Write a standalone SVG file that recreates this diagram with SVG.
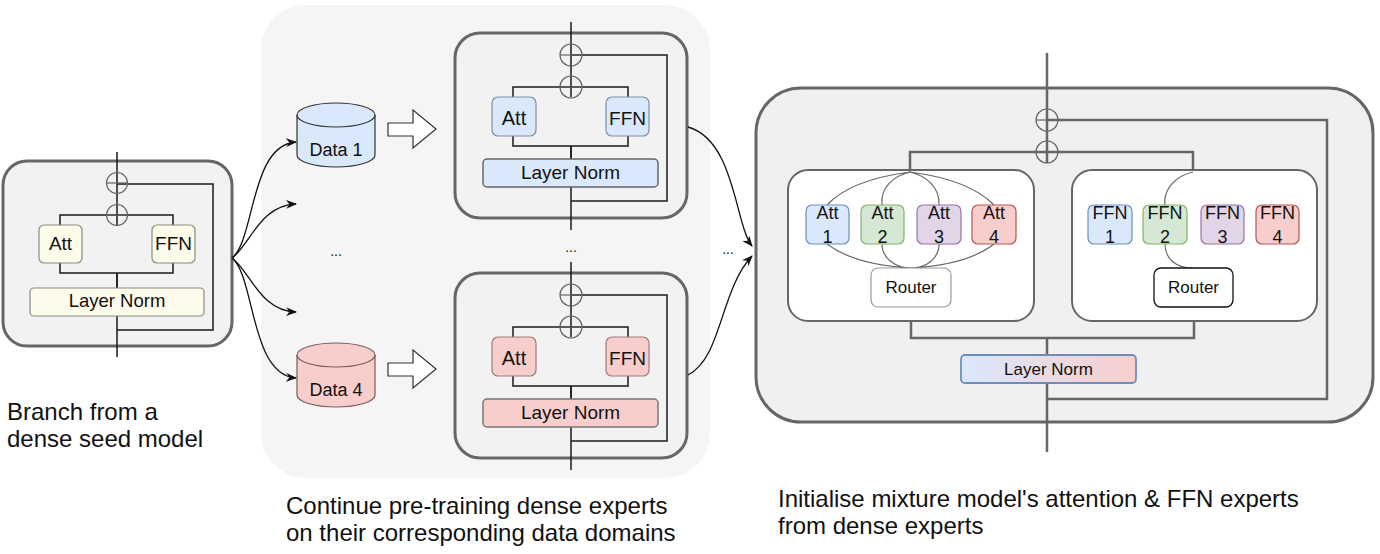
<svg xmlns="http://www.w3.org/2000/svg" width="1380" height="554" viewBox="0 0 1380 554">
<defs>
<style>
text{font-family:"Liberation Sans",Arial,Helvetica,sans-serif;fill:#111}
.blk{fill:#f2f2f2;stroke:#666;stroke-width:3}
.ln{fill:none;stroke:#1a1a1a;stroke-width:1.5}
.lng{fill:none;stroke:#666;stroke-width:2.5}
.circ{fill:none;stroke:#666;stroke-width:1.2}
.cream{fill:#fdfbea;stroke:#8a8a80;stroke-width:1.2}
.blue{fill:#dae8fc;stroke:#7f8fa6;stroke-width:1.2}
.pink{fill:#f8cecc;stroke:#a07a7a;stroke-width:1.2}
.lnb{fill:#dae8fc;stroke:#666;stroke-width:1.5}
.lnp{fill:#f8cecc;stroke:#777;stroke-width:1.5}
.cont{fill:#fff;stroke:#666;stroke-width:2}
.cv{fill:none;stroke:#666;stroke-width:1.2}
.conn{fill:none;stroke:#111;stroke-width:1.3}
.hollow{fill:#fff;stroke:#333;stroke-width:1.2}
.c{text-anchor:middle}
.title{font-size:24px}
</style>
<marker id="arr" viewBox="0 0 10 8" refX="9" refY="4" markerWidth="11" markerHeight="9" markerUnits="userSpaceOnUse" orient="auto">
<path d="M0,0 L10,4 L0,8 L3,4 Z" fill="#111"/>
</marker>
<linearGradient id="lngrad" x1="0" y1="0" x2="1" y2="0">
<stop offset="0" stop-color="#dae8fc"/>
<stop offset="1" stop-color="#f8cecc"/>
</linearGradient>
</defs>
<rect x="0" y="0" width="1380" height="554" fill="#fff"/>

<g id="panel-middle">
<rect x="261" y="5" width="449" height="473" rx="45" fill="#f5f5f5"/>
</g>

<g id="seed-model">
<rect x="3" y="161" width="229" height="185" rx="24" class="blk"/>
<path d="M117,152 V226 M117,273 V357" class="ln"/>
<path d="M117,184 H213 V330 H117" class="ln"/>
<path d="M60,225 V215 H173 V225" class="ln"/>
<path d="M60,263 V273 H173 V263 M117,273 V288" class="ln"/>
<circle cx="117" cy="183" r="10.5" class="circ"/>
<path d="M106.5,183 H127.5" class="circ"/>
<circle cx="117" cy="215" r="10.5" class="circ"/>
<path d="M106.5,215 H127.5" class="circ"/>
<rect x="39" y="225" width="43" height="38" rx="5" class="cream"/>
<text x="60.5" y="250" font-size="19" class="c">Att</text>
<rect x="152" y="225" width="43" height="38" rx="5" class="cream"/>
<text x="173.5" y="250" font-size="19" class="c">FFN</text>
<rect x="30" y="288" width="174" height="28" rx="4" class="cream"/>
<text x="117" y="307" font-size="18.5" class="c">Layer Norm</text>
</g>

<g id="data-1">
<path d="M297,115 A39,12 0 0 1 375,115 V155 A39,12 0 0 1 297,155 Z" fill="#dae8fc" stroke="#333" stroke-width="1.2"/>
<path d="M297,115 A39,12 0 0 0 375,115" fill="none" stroke="#333" stroke-width="1.2"/>
<text x="336" y="156" font-size="18" class="c">Data 1</text>
</g>

<g id="data-4">
<path d="M297,355 A39,12 0 0 1 375,355 V395 A39,12 0 0 1 297,395 Z" fill="#f8cecc" stroke="#7a5a5a" stroke-width="1.2"/>
<path d="M297,355 A39,12 0 0 0 375,355" fill="none" stroke="#7a5a5a" stroke-width="1.2"/>
<text x="336" y="396" font-size="18" class="c">Data 4</text>
</g>

<g id="arrow-1">
<path d="M388,123 H413 V110 L436,129 L413,148 V136 H388 Z" class="hollow"/>
</g>
<g id="arrow-4">
<path d="M388,363 H413 V350 L436,369 L413,388 V376 H388 Z" class="hollow"/>
</g>

<g id="dense-expert-1">
<rect x="455" y="33" width="232" height="185" rx="25" class="blk"/>
<path d="M571,22 V97 M571,146 V230" class="ln"/>
<path d="M571,55 H667 V201 H571" class="ln"/>
<path d="M513,97 V87 H628 V97" class="ln"/>
<path d="M513,136 V146 H628 V136 M571,146 V159" class="ln"/>
<circle cx="571" cy="55" r="11" class="circ"/>
<path d="M560,55 H582" class="circ"/>
<circle cx="571" cy="87" r="11" class="circ"/>
<path d="M560,87 H582" class="circ"/>
<rect x="492" y="97" width="44" height="39" rx="6" class="blue"/>
<text x="514" y="125" font-size="20" class="c">Att</text>
<rect x="606" y="97" width="43" height="39" rx="6" class="blue"/>
<text x="627.5" y="125" font-size="19" class="c">FFN</text>
<rect x="483" y="159" width="175" height="28" rx="4" class="lnb"/>
<text x="570.5" y="179" font-size="19" class="c">Layer Norm</text>
</g>

<g id="dense-expert-4">
<rect x="455" y="273" width="232" height="185" rx="25" class="blk"/>
<path d="M571,262 V337 M571,386 V470" class="ln"/>
<path d="M571,295 H667 V441 H571" class="ln"/>
<path d="M513,337 V327 H628 V337" class="ln"/>
<path d="M513,376 V386 H628 V376 M571,386 V399" class="ln"/>
<circle cx="571" cy="295" r="11" class="circ"/>
<path d="M560,295 H582" class="circ"/>
<circle cx="571" cy="327" r="11" class="circ"/>
<path d="M560,327 H582" class="circ"/>
<rect x="492" y="337" width="44" height="39" rx="6" class="pink"/>
<text x="514" y="365" font-size="20" class="c">Att</text>
<rect x="606" y="337" width="43" height="39" rx="6" class="pink"/>
<text x="627.5" y="365" font-size="19" class="c">FFN</text>
<rect x="483" y="399" width="175" height="28" rx="4" class="lnp"/>
<text x="570.5" y="419" font-size="19" class="c">Layer Norm</text>
</g>

<g id="mixture-model">
<rect x="756" y="88" width="617" height="334" rx="45" fill="#f0f0f0" stroke="#666" stroke-width="3"/>
<path d="M1047,53 V163 M1047,338 V452" class="lng"/>
<path d="M1047,120 H1327 V399 H1047" class="lng"/>
<path d="M910,170 V152 H1193 V170" class="lng"/>
<path d="M911,321 V338 H1194 V321" class="lng"/>
<circle cx="1047" cy="120" r="11" class="circ" stroke-width="1.5"/>
<path d="M1036,120 H1058" class="circ"/>
<circle cx="1047" cy="152" r="11" class="circ" stroke-width="1.5"/>
<path d="M1036,152 H1058" class="circ"/>
<rect x="961" y="355" width="175" height="28" rx="4" fill="url(#lngrad)" stroke="#6c8ebf" stroke-width="1.8"/>
<text x="1048.5" y="375" font-size="17" class="c">Layer Norm</text>
</g>

<g id="attention-experts">
<rect x="788" y="170" width="246" height="151" rx="20" class="cont"/>
<path d="M910,172 Q850,180 827,205 M910,172 C893,176 880,188 882,205 M910,172 C927,176 940,188 939,205 M910,172 Q970,180 994,205" class="cv"/>
<path d="M827,244 Q855,265 911,268 M882,244 C882,258 895,268 911,268 M939,244 C939,258 927,268 911,268 M994,244 Q967,265 911,268" class="cv"/>
<rect x="806" y="205" width="43" height="39" rx="6" fill="#dae8fc" stroke="#6c8ebf" stroke-width="1.2"/>
<text x="827.5" y="219" font-size="18" class="c">Att</text>
<text x="827.5" y="243" font-size="18" class="c">1</text>
<rect x="861" y="205" width="43" height="39" rx="6" fill="#d5e8d4" stroke="#82b366" stroke-width="1.2"/>
<text x="882.5" y="219" font-size="18" class="c">Att</text>
<text x="882.5" y="243" font-size="18" class="c">2</text>
<rect x="917" y="205" width="44" height="39" rx="6" fill="#e1d5e7" stroke="#9673a6" stroke-width="1.2"/>
<text x="939" y="219" font-size="18" class="c">Att</text>
<text x="939" y="243" font-size="18" class="c">3</text>
<rect x="972" y="205" width="44" height="39" rx="6" fill="#f8cecc" stroke="#b85450" stroke-width="1.2"/>
<text x="994" y="219" font-size="18" class="c">Att</text>
<text x="994" y="243" font-size="18" class="c">4</text>
<rect x="871" y="268" width="80" height="39" rx="7" fill="#fff" stroke="#999" stroke-width="1.2"/>
<text x="911" y="293" font-size="17" class="c">Router</text>
</g>

<g id="ffn-experts">
<rect x="1072" y="170" width="245" height="151" rx="20" class="cont"/>
<path d="M1193,172 C1175,176 1163,190 1165,205 M1165,244 C1165,258 1175,268 1193,268" class="cv"/>
<rect x="1088" y="205" width="44" height="39" rx="6" fill="#dae8fc" stroke="#6c8ebf" stroke-width="1.2"/>
<text x="1110" y="219" font-size="18" class="c">FFN</text>
<text x="1110" y="243" font-size="18" class="c">1</text>
<rect x="1143" y="205" width="44" height="39" rx="6" fill="#d5e8d4" stroke="#82b366" stroke-width="1.2"/>
<text x="1165" y="219" font-size="18" class="c">FFN</text>
<text x="1165" y="243" font-size="18" class="c">2</text>
<rect x="1201" y="205" width="43" height="39" rx="6" fill="#e1d5e7" stroke="#9673a6" stroke-width="1.2"/>
<text x="1222.5" y="219" font-size="18" class="c">FFN</text>
<text x="1222.5" y="243" font-size="18" class="c">3</text>
<rect x="1256" y="205" width="43" height="39" rx="6" fill="#f8cecc" stroke="#b85450" stroke-width="1.2"/>
<text x="1277.5" y="219" font-size="18" class="c">FFN</text>
<text x="1277.5" y="243" font-size="18" class="c">4</text>
<rect x="1154" y="268" width="79" height="39" rx="7" fill="#fff" stroke="#111" stroke-width="1.3"/>
<text x="1193.5" y="293" font-size="17" class="c">Router</text>
</g>

<g id="connectors">
<path d="M232,258 C255,240 250,145 296,142" class="conn" marker-end="url(#arr)"/>
<path d="M232,258 C250,245 260,205 296,204" class="conn" marker-end="url(#arr)"/>
<path d="M232,258 C250,271 260,311 296,312" class="conn" marker-end="url(#arr)"/>
<path d="M232,258 C255,276 250,375 296,378" class="conn" marker-end="url(#arr)"/>
<path d="M688,127 C735,140 735,225 752,246" class="conn" marker-end="url(#arr)"/>
<path d="M688,375 C722,358 720,290 752,256" class="conn" marker-end="url(#arr)"/>
</g>

<g id="labels">
<text x="336" y="256" font-size="14" class="c">...</text>
<text x="571" y="252" font-size="14" class="c">...</text>
<text x="728" y="254" font-size="14" class="c">...</text>
<text x="7" y="420" class="title">Branch from a</text>
<text x="7" y="447" class="title">dense seed model</text>
<text x="286" y="514" class="title">Continue pre-training dense experts</text>
<text x="286" y="541" class="title">on their corresponding data domains</text>
<text x="778" y="507" class="title">Initialise mixture model's attention &amp; FFN experts</text>
<text x="778" y="534" class="title">from dense experts</text>
</g>
</svg>
